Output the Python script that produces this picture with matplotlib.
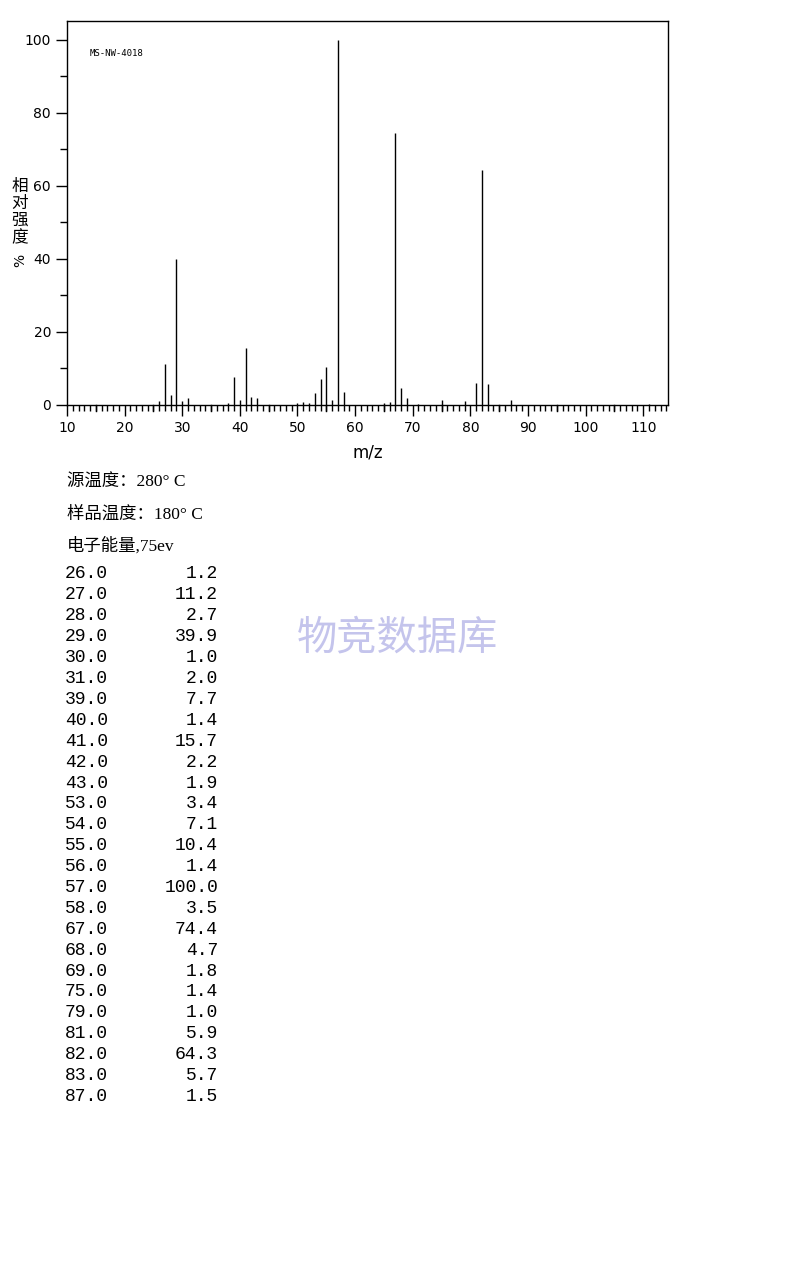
import numpy as np
import matplotlib.pyplot as plt
from matplotlib.ticker import MultipleLocator

# mass spectrum peaks (m/z, relative intensity %)
mz = [26, 27, 28, 29, 30, 31, 39, 40, 41, 42, 43, 53, 54, 55, 56, 57, 58,
      67, 68, 69, 75, 79, 81, 82, 83, 87]
inten = [1.2, 11.2, 2.7, 39.9, 1.0, 2.0, 7.7, 1.4, 15.7, 2.2, 1.9, 3.4, 7.1,
         10.4, 1.4, 100.0, 3.5, 74.4, 4.7, 1.8, 1.4, 1.0, 5.9, 64.3, 5.7, 1.5]
# tiny peaks visible on the plot but not listed in the table
minor_mz = [38, 50, 51, 52, 65, 66, 71, 111]
minor_inten = [0.6, 0.5, 0.8, 0.6, 0.5, 0.7, 0.4, 0.3]

info_lines = ['源温度：280° C', '样品温度：180° C', '电子能量,75ev']

W, H = 794, 1276
fig = plt.figure(figsize=(W / 100, H / 100), dpi=100)
ax = fig.add_axes([67 / W, 1 - 405 / H, (668 - 67) / W, (405 - 21) / H])

ax.vlines(mz, 0, inten, color='black', linewidth=1)
ax.vlines(minor_mz, 0, minor_inten, color='black', linewidth=1)
ax.set_xlim(10, 114.3)
ax.set_ylim(0, 105.2)

ax.xaxis.set_major_locator(MultipleLocator(10))
ax.xaxis.set_minor_locator(MultipleLocator(1))
ax.yaxis.set_major_locator(MultipleLocator(20))
ax.yaxis.set_minor_locator(MultipleLocator(10))
ax.tick_params(axis='both', which='major', direction='out', length=8,
               width=1, labelsize=10, color='black')
ax.tick_params(axis='x', which='minor', direction='out', length=4, width=1)
ax.tick_params(axis='y', which='minor', direction='out', length=5, width=1)
for s in ax.spines.values():
    s.set_linewidth(1)

# medium ticks at the fives
for v in range(15, 115, 10):
    ax.plot([v, v], [0, -1.6], color='black', lw=1, clip_on=False)

ax.set_xlabel('m/z', fontsize=12, labelpad=6)
ax.text(0.038, 0.91, 'MS-NW-4018', transform=ax.transAxes, fontsize=6.5,
        family='DejaVu Sans Mono')

# y label stacked vertically
fig.text(20 / W, 1 - 178 / H, '相\n对\n强\n度', family='Noto Sans CJK SC',
         fontsize=12, ha='center', va='top', linespacing=1.0)
fig.text(20 / W, 1 - 260 / H, '%', fontsize=10, rotation=90,
         ha='center', va='center')

# info text
for i, line in enumerate(info_lines):
    fig.text(67 / W, 1 - (483 + 31.5 * i) / H, line,
             family=['Liberation Serif', 'Noto Sans CJK SC'],
             fontsize=12.5, va='center')

# peak table
for i, (m, v) in enumerate(zip(mz, inten)):
    y = 1 - (574 + 20.9 * i) / H
    fig.text(65 / W, y, f'{m:.1f}', family='Liberation Mono', fontsize=13,
             va='center')
    fig.text(218 / W, y, f'{v:.1f}', family='Liberation Mono', fontsize=13,
             va='center', ha='right')

# watermark
fig.text(397 / W, 1 - 638 / H, '物竞数据库', family='Noto Sans CJK SC',
         fontsize=29, color='#c4c4ec', ha='center', va='center')

fig.savefig('out.png', dpi=100)
